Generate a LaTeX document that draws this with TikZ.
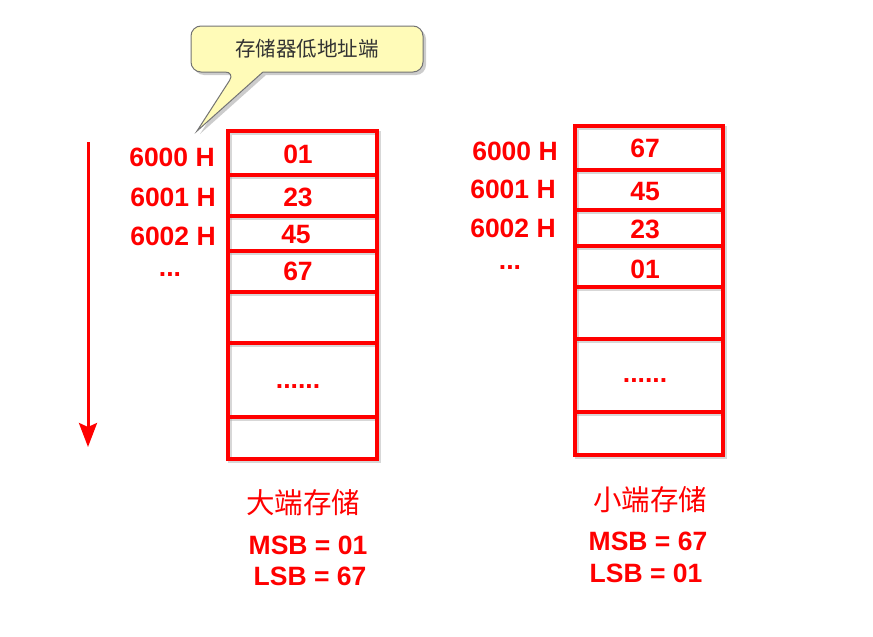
\documentclass[tikz,border=0pt]{standalone}
\usepackage{fontspec}
\setmainfont{Liberation Sans}
\newfontfamily\cjk{Noto Sans CJK SC}
\usetikzlibrary{arrows.meta,shadows}
\begin{document}
\begin{tikzpicture}[x=1pt,y=-1pt,
  mem/.style={draw=red,line width=3.5pt},
  memshade/.style={draw=black!35,line width=3.5pt,opacity=0.45},
  num/.style={text=red,font=\bfseries\fontsize{26.5}{30}\selectfont,inner sep=0pt},
  capt/.style={text=red,font=\cjk\fontsize{28.5}{32}\selectfont,inner sep=0pt},
  bubble/.style={draw=black!55,fill=yellow!28,line width=1pt},
  bubtext/.style={text=black!80,font=\cjk\fontsize{20.5}{24}\selectfont,inner sep=0pt}]
\useasboundingbox (0,0) rectangle (873,637);

% ---- callout ----
\path[bubble, drop shadow={shadow xshift=3pt,shadow yshift=-3pt,opacity=0.4}]
  (263,72) [rounded corners=10pt] -- (423,72) -- (423,26) -- (191,26) -- (191,72) -- (235,72)
  [sharp corners] -- (197,131) -- cycle;
\node[bubtext] (note) at (307,49) {存储器低地址端};

% ---- arrow ----
\coordinate (a0) at (88,142);
\coordinate (a1) at (88,447);
\draw[red,line width=3pt,-{Stealth[length=24pt,width=18pt,inset=4pt]}] (a0) -- (a1);

% ---- shadows of boxes ----
\begin{scope}[xshift=2pt,yshift=-2pt]
  \draw[memshade] (228,131) rectangle (377,459);
  \foreach \yy in {175,216,251,292,343,417} \draw[memshade] (228,\yy) -- (377,\yy);
  \draw[memshade] (575,126) rectangle (723,455);
  \foreach \yy in {170,210,246,287,339,412} \draw[memshade] (575,\yy) -- (723,\yy);
\end{scope}

% ---- left memory (big endian) ----
\draw[mem] (228,131) rectangle (377,459);
\foreach \yy in {175,216,251,292,343,417} \draw[mem] (228,\yy) -- (377,\yy);
\node[num] (l1) at (298,154) {01};
\node[num] (l2) at (298,197) {23};
\node[num] (l3) at (296,235) {45};
\node[num] (l4) at (298,271) {67};
\node[num] (l5) at (298,387) {......};
\node[num] (la1) at (172,157) {6000 H};
\node[num] (la2) at (173,197) {6001 H};
\node[num] (la3) at (173,236) {6002 H};
\node[num] (la4) at (170,275) {...};

% ---- right memory (little endian) ----
\draw[mem] (575,126) rectangle (723,455);
\foreach \yy in {170,210,246,287,339,412} \draw[mem] (575,\yy) -- (723,\yy);
\node[num] (r1) at (645,148) {67};
\node[num] (r2) at (645,192) {45};
\node[num] (r3) at (645,229) {23};
\node[num] (r4) at (645,269) {01};
\node[num] (r5) at (645,381) {......};
\node[num] (ra1) at (515,151) {6000 H};
\node[num] (ra2) at (513,189) {6001 H};
\node[num] (ra3) at (513,228) {6002 H};
\node[num] (ra4) at (510,268) {...};

% ---- captions ----
\node[capt] (c1) at (303,503) {大端存储};
\node[num] (c1m) at (308,545) {MSB = 01};
\node[num] (c1l) at (310,576) {LSB = 67};
\node[capt] (c2) at (650,500) {小端存储};
\node[num] (c2m) at (648,541) {MSB = 67};
\node[num] (c2l) at (646,573) {LSB = 01};
\end{tikzpicture}
\end{document}
